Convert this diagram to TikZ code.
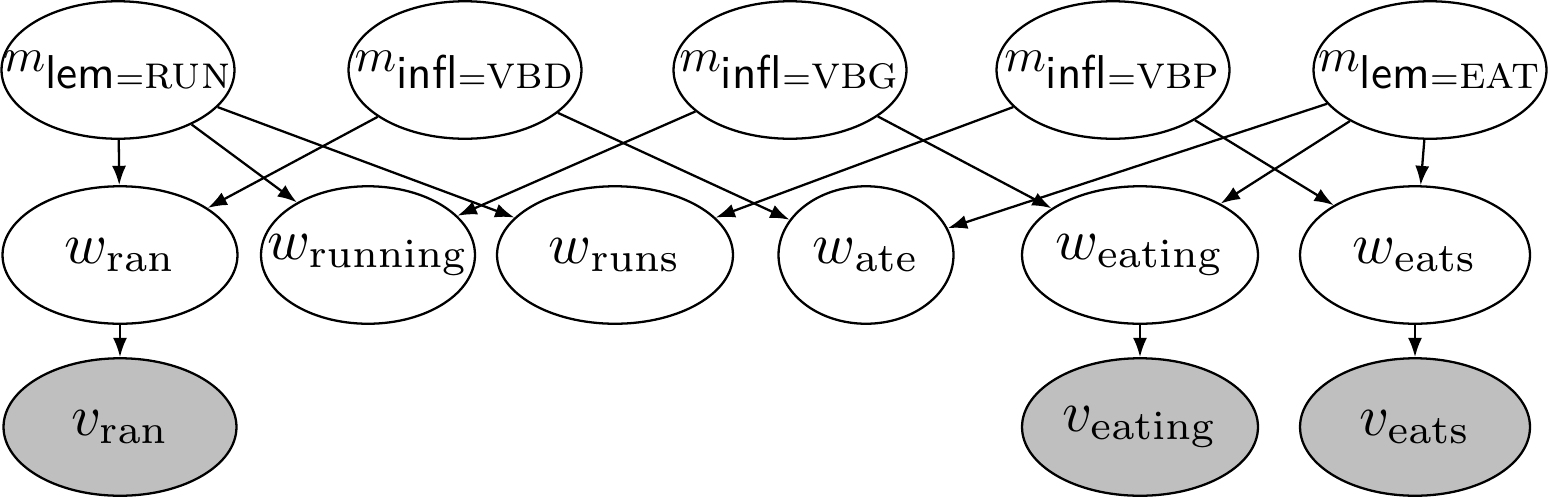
\documentclass[tikz,border=0pt]{standalone}
\usetikzlibrary{shapes.geometric,arrows.meta}
\newcommand{\lbl}[1]{\scalebox{3.3}{$#1$}}
\newcommand{\mlbl}[1]{\scalebox{2.7}{$#1$}}
\begin{document}
\begin{tikzpicture}[x=0.02cm,y=-0.02cm,
  var/.style={ellipse,draw,line width=1.3pt,minimum width=4.66cm,minimum height=2.75cm,inner sep=0pt},
  obs/.style={var,fill=black!25},
  edge/.style={line width=1.3pt,-{Latex[length=11pt,width=8pt]}}]
\useasboundingbox (0,0) rectangle (1548,498);
%\draw[] (0,0) grid (1548,498);
\node[var,label=center:\mlbl{m_{\textsf{lem}=\textsc{run}}}] (mrun) at (118,70) {};
\node[var,label=center:\mlbl{m_{\textsf{infl}=\textsc{vbd}}}] (mvbd) at (465,70) {};
\node[var,label=center:\mlbl{m_{\textsf{infl}=\textsc{vbg}}}] (mvbg) at (790,70) {};
\node[var,label=center:\mlbl{m_{\textsf{infl}=\textsc{vbp}}}] (mvbp) at (1113,70) {};
\node[var,label=center:\mlbl{m_{\textsf{lem}=\textsc{eat}}}] (meat) at (1430,70) {};
\node[var,minimum width=4.7cm,label=center:\lbl{w_{\mathrm{ran}}}] (wran) at (120,255) {};
\node[var,minimum width=4.28cm,label=center:\lbl{w_{\mathrm{running}}}] (wrunning) at (368,255) {};
\node[var,minimum width=4.72cm,label=center:\lbl{w_{\mathrm{runs}}}] (wruns) at (615,255) {};
\node[var,minimum width=3.5cm,label=center:\lbl{w_{\mathrm{ate}}}] (wate) at (866,255) {};
\node[var,minimum width=4.72cm,label=center:\lbl{w_{\mathrm{eating}}}] (weating) at (1140,255) {};
\node[var,minimum width=4.6cm,label=center:\lbl{w_{\mathrm{eats}}}] (weats) at (1415,255) {};
\node[obs,label=center:\lbl{v_{\mathrm{ran}}}] (vran) at (120,427) {};
\node[obs,minimum width=4.72cm,label=center:\lbl{v_{\mathrm{eating}}}] (veating) at (1140,427) {};
\node[obs,minimum width=4.6cm,label=center:\lbl{v_{\mathrm{eats}}}] (veats) at (1415,427) {};
\draw[edge] (mrun) -- (wran);
\draw[edge] (mrun) -- (wrunning);
\draw[edge] (mrun) -- (wruns);
\draw[edge] (mvbd) -- (wran);
\draw[edge] (mvbd) -- (wate);
\draw[edge] (mvbg) -- (wrunning);
\draw[edge] (mvbg) -- (weating);
\draw[edge] (mvbp) -- (wruns);
\draw[edge] (mvbp) -- (weats);
\draw[edge] (meat) -- (wate);
\draw[edge] (meat) -- (weating);
\draw[edge] (meat) -- (weats);
\draw[edge] (wran) -- (vran);
\draw[edge] (weating) -- (veating);
\draw[edge] (weats) -- (veats);
\end{tikzpicture}
\end{document}
